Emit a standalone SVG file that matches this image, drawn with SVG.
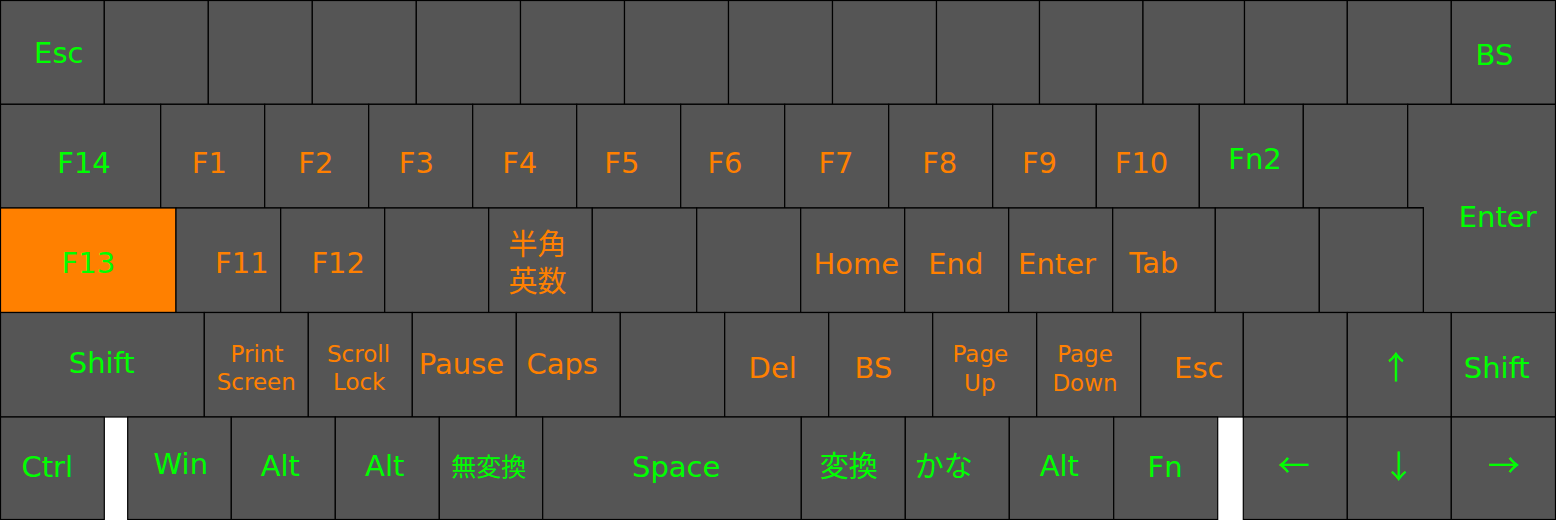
<svg xmlns="http://www.w3.org/2000/svg" width="1556" height="520" viewBox="0 0 1556 520">
<style>
.k{fill:#555555;stroke:#000000;stroke-width:1.2}
.hl{fill:#ff8000;stroke:#000000;stroke-width:1.2}
.t{font-family:"DejaVu Sans","Noto Sans CJK JP",sans-serif;font-size:29px;text-anchor:middle}
.s{font-size:23px}
.a{font-family:"Noto Sans CJK JP",sans-serif;font-size:32px}
.j{font-family:"Noto Sans CJK JP","DejaVu Sans",sans-serif}
.g{fill:#00ff00}
.o{fill:#ff8000}
</style>
<rect x="0" y="0" width="1556" height="520" fill="#ffffff"/>
<!-- Row 1 -->
<g id="r1">
<g id="k-esc"><rect class="k" x="0.5" y="0.5" width="103.8" height="103.8"/><text class="t g" x="58.8" y="63.3">Esc</text></g>
<g id="k-r1-2"><rect class="k" x="104.3" y="0.5" width="104" height="103.8"/></g>
<g id="k-r1-3"><rect class="k" x="208.3" y="0.5" width="104" height="103.8"/></g>
<g id="k-r1-4"><rect class="k" x="312.3" y="0.5" width="104" height="103.8"/></g>
<g id="k-r1-5"><rect class="k" x="416.3" y="0.5" width="104.2" height="103.8"/></g>
<g id="k-r1-6"><rect class="k" x="520.5" y="0.5" width="104" height="103.8"/></g>
<g id="k-r1-7"><rect class="k" x="624.5" y="0.5" width="104" height="103.8"/></g>
<g id="k-r1-8"><rect class="k" x="728.5" y="0.5" width="104" height="103.8"/></g>
<g id="k-r1-9"><rect class="k" x="832.5" y="0.5" width="104" height="103.8"/></g>
<g id="k-r1-10"><rect class="k" x="936.5" y="0.5" width="103" height="103.8"/></g>
<g id="k-r1-11"><rect class="k" x="1039.5" y="0.5" width="103.5" height="103.8"/></g>
<g id="k-r1-12"><rect class="k" x="1143" y="0.5" width="101.5" height="103.8"/></g>
<g id="k-r1-13"><rect class="k" x="1244.5" y="0.5" width="102.8" height="103.8"/></g>
<g id="k-r1-14"><rect class="k" x="1347.3" y="0.5" width="104" height="103.8"/></g>
<g id="k-bs"><rect class="k" x="1451.3" y="0.5" width="104.2" height="103.8"/><text class="t g" x="1494.5" y="65">BS</text></g>
</g>
<!-- Row 2 -->
<g id="r2">
<g id="k-f14"><rect class="k" x="0.5" y="104.3" width="160.2" height="103.7"/><text class="t g" x="84" y="173">F14</text></g>
<g id="k-f1"><rect class="k" x="160.7" y="104.3" width="104" height="103.7"/><text class="t o" x="209.3" y="173">F1</text></g>
<g id="k-f2"><rect class="k" x="264.7" y="104.3" width="104" height="103.7"/><text class="t o" x="315.8" y="173">F2</text></g>
<g id="k-f3"><rect class="k" x="368.7" y="104.3" width="104" height="103.7"/><text class="t o" x="416.3" y="173">F3</text></g>
<g id="k-f4"><rect class="k" x="472.7" y="104.3" width="104" height="103.7"/><text class="t o" x="519.7" y="173">F4</text></g>
<g id="k-f5"><rect class="k" x="576.7" y="104.3" width="104" height="103.7"/><text class="t o" x="621.8" y="173">F5</text></g>
<g id="k-f6"><rect class="k" x="680.7" y="104.3" width="104" height="103.7"/><text class="t o" x="725" y="173">F6</text></g>
<g id="k-f7"><rect class="k" x="784.7" y="104.3" width="104" height="103.7"/><text class="t o" x="836" y="173">F7</text></g>
<g id="k-f8"><rect class="k" x="888.7" y="104.3" width="104" height="103.7"/><text class="t o" x="939.7" y="173">F8</text></g>
<g id="k-f9"><rect class="k" x="992.7" y="104.3" width="103.6" height="103.7"/><text class="t o" x="1039.5" y="173">F9</text></g>
<g id="k-f10"><rect class="k" x="1096.3" y="104.3" width="103" height="103.7"/><text class="t o" x="1141.5" y="173">F10</text></g>
<g id="k-fn2"><rect class="k" x="1199.3" y="104.3" width="104" height="103.7"/><text class="t g" x="1255" y="169.3">Fn2</text></g>
<g id="k-r2-14"><rect class="k" x="1303.3" y="104.3" width="104.4" height="103.7"/></g>
<g id="k-enter"><path class="k" d="M1407.7,104.3 H1555.5 V312.5 H1423.3 V207.5 H1407.7 Z"/><text class="t g" x="1497.7" y="226.7">Enter</text></g>
</g>
<!-- Row 3 -->
<g id="r3">
<g id="k-f13"><rect class="hl" x="0.5" y="208" width="175.5" height="104.5"/><text class="t g" x="88.3" y="272.7">F13</text></g>
<g id="k-f11"><rect class="k" x="176" y="208" width="104.7" height="104.5"/><text class="t o" x="241.8" y="272.7">F11</text></g>
<g id="k-f12"><rect class="k" x="280.7" y="208" width="104" height="104.5"/><text class="t o" x="338.2" y="272.7">F12</text></g>
<g id="k-r3-4"><rect class="k" x="384.7" y="208" width="104" height="104.5"/></g>
<g id="k-hankaku"><rect class="k" x="488.7" y="208" width="103.6" height="104.5"/><text class="t j o"><tspan x="537.5" y="254.5">半角</tspan><tspan x="537.5" y="291.5">英数</tspan></text></g>
<g id="k-r3-6"><rect class="k" x="592.3" y="208" width="104.4" height="104.5"/></g>
<g id="k-r3-7"><rect class="k" x="696.7" y="208" width="104" height="104.5"/></g>
<g id="k-home"><rect class="k" x="800.7" y="208" width="104" height="104.5"/><text class="t o" x="856.3" y="274">Home</text></g>
<g id="k-end"><rect class="k" x="904.7" y="208" width="104" height="104.5"/><text class="t o" x="955.8" y="274">End</text></g>
<g id="k-enter2"><rect class="k" x="1008.7" y="208" width="104" height="104.5"/><text class="t o" x="1057" y="274">Enter</text></g>
<g id="k-tab"><rect class="k" x="1112.7" y="208" width="102.6" height="104.5"/><text class="t o" x="1153.8" y="272.7">Tab</text></g>
<g id="k-r3-12"><rect class="k" x="1215.3" y="208" width="104" height="104.5"/></g>
<g id="k-r3-13"><rect class="k" x="1319.3" y="208" width="104" height="104.5"/></g>
</g>
<!-- Row 4 -->
<g id="r4">
<g id="k-lshift"><rect class="k" x="0.5" y="312.5" width="203.8" height="104.5"/><text class="t g" x="101.7" y="373.3">Shift</text></g>
<g id="k-prtsc"><rect class="k" x="204.3" y="312.5" width="104" height="104.5"/><text class="t s o"><tspan x="257" y="361.7">Print</tspan><tspan x="256.3" y="390">Screen</tspan></text></g>
<g id="k-scrlk"><rect class="k" x="308.3" y="312.5" width="104" height="104.5"/><text class="t s o"><tspan x="358.5" y="361.7">Scroll</tspan><tspan x="359.2" y="390">Lock</tspan></text></g>
<g id="k-pause"><rect class="k" x="412.3" y="312.5" width="104" height="104.5"/><text class="t o" x="461.5" y="374.3">Pause</text></g>
<g id="k-caps"><rect class="k" x="516.3" y="312.5" width="104" height="104.5"/><text class="t o" x="562.2" y="374.3">Caps</text></g>
<g id="k-r4-6"><rect class="k" x="620.3" y="312.5" width="104.4" height="104.5"/></g>
<g id="k-del"><rect class="k" x="724.7" y="312.5" width="104" height="104.5"/><text class="t o" x="772.7" y="377.7">Del</text></g>
<g id="k-bs2"><rect class="k" x="828.7" y="312.5" width="104" height="104.5"/><text class="t o" x="873.5" y="377.7">BS</text></g>
<g id="k-pgup"><rect class="k" x="932.7" y="312.5" width="104" height="104.5"/><text class="t s o"><tspan x="980.3" y="361.7">Page</tspan><tspan x="979.8" y="391">Up</tspan></text></g>
<g id="k-pgdn"><rect class="k" x="1036.7" y="312.5" width="104" height="104.5"/><text class="t s o"><tspan x="1085" y="361.7">Page</tspan><tspan x="1085" y="391">Down</tspan></text></g>
<g id="k-esc2"><rect class="k" x="1140.7" y="312.5" width="102.6" height="104.5"/><text class="t o" x="1198.8" y="377.7">Esc</text></g>
<g id="k-r4-12"><rect class="k" x="1243.3" y="312.5" width="104" height="104.5"/></g>
<g id="k-up"><rect class="k" x="1347.3" y="312.5" width="104" height="104.5"/><text class="t a g" x="1396" y="379">↑</text></g>
<g id="k-rshift"><rect class="k" x="1451.3" y="312.5" width="104.2" height="104.5"/><text class="t g" x="1496.8" y="377.7">Shift</text></g>
</g>
<!-- Row 5 -->
<g id="r5">
<g id="k-ctrl"><rect class="k" x="0.5" y="417" width="103.8" height="102.5"/><text class="t g" x="47.3" y="476.7">Ctrl</text></g>
<g id="k-win"><rect class="k" x="127.7" y="417" width="103.6" height="102.5"/><text class="t g" x="180.8" y="474.3">Win</text></g>
<g id="k-alt1"><rect class="k" x="231.3" y="417" width="104" height="102.5"/><text class="t g" x="280.3" y="475.7">Alt</text></g>
<g id="k-alt2"><rect class="k" x="335.3" y="417" width="104" height="102.5"/><text class="t g" x="384.7" y="475.7">Alt</text></g>
<g id="k-muhenkan"><rect class="k" x="439.3" y="417" width="103.4" height="102.5"/><text class="t j g" x="488.8" y="476" style="font-size:25px">無変換</text></g>
<g id="k-space"><rect class="k" x="542.7" y="417" width="258.6" height="102.5"/><text class="t g" x="676.2" y="476.7">Space</text></g>
<g id="k-henkan"><rect class="k" x="801.3" y="417" width="104" height="102.5"/><text class="t j g" x="848.7" y="477">変換</text></g>
<g id="k-kana"><rect class="k" x="905.3" y="417" width="104" height="102.5"/><text class="t j g" x="943.8" y="476.7">かな</text></g>
<g id="k-alt3"><rect class="k" x="1009.3" y="417" width="104.4" height="102.5"/><text class="t g" x="1059.3" y="475.7">Alt</text></g>
<g id="k-fn"><rect class="k" x="1113.7" y="417" width="104" height="102.5"/><text class="t g" x="1165" y="476.7">Fn</text></g>
<g id="k-left"><rect class="k" x="1243.3" y="417" width="104" height="102.5"/><text class="t a g" x="1293.7" y="477">←</text></g>
<g id="k-down"><rect class="k" x="1347.3" y="417" width="104" height="102.5"/><text class="t a g" x="1398.7" y="478">↓</text></g>
<g id="k-right"><rect class="k" x="1451.3" y="417" width="104.2" height="102.5"/><text class="t a g" x="1504" y="477">→</text></g>
</g>
<g id="connectors"/>
</svg>
